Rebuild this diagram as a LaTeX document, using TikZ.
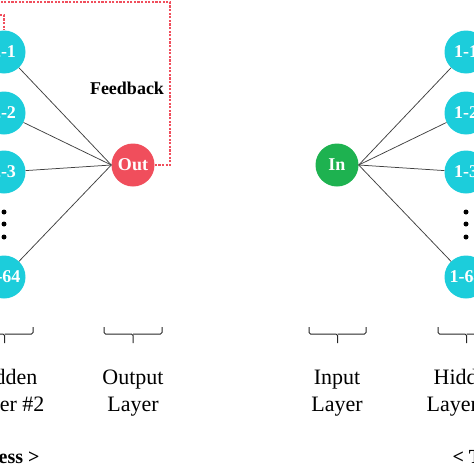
\documentclass[tikz,border=0pt]{standalone}
\usepackage{fontspec}
\setmainfont{Liberation Serif}
\definecolor{hidcyan}{RGB}{28,205,219}
\definecolor{outred}{RGB}{240,78,92}
\definecolor{ingreen}{RGB}{30,178,80}
\tikzset{
  neuron/.style={circle, minimum size=43pt, inner sep=0pt, text=white,
    font=\fontsize{18}{18}\selectfont\bfseries},
  link/.style={draw=black!75, line width=0.75pt},
  feedline/.style={draw=outred, line width=1.1pt, dash pattern=on 2.2pt off 1.4pt},
  layerbrace/.style={draw=black!85, line width=1pt, rounded corners=1.5pt},
  layername/.style={align=center, font=\fontsize{22}{27}\selectfont},
}
\newcommand{\layerbrace}[2]{%
  \draw[layerbrace] (#1,327) -- (#1,334) -- ({(#1+#2)/2},334) -- ({(#1+#2)/2},343);
  \draw[layerbrace] ({(#1+#2)/2},334) -- (#2,334) -- (#2,327);
}
\begin{document}
\begin{tikzpicture}[x=1pt, y=-1pt]
    \useasboundingbox (0,0) rectangle (474,474);
    \clip (0,0) rectangle (474,474);

    % Hidden layer #2 and output
    \node[neuron, fill=hidcyan] (h21) at (4,52) {2-1};
    \node[neuron, fill=hidcyan] (h22) at (4,113) {2-2};
    \node[neuron, fill=hidcyan] (h23) at (4,172) {2-3};
    \node[neuron, fill=hidcyan] (h264) at (4,277) {2-64};
    \node[neuron, fill=outred] (out) at (133,165) {Out};
    \fill (4,212) circle (2.5pt);
    \fill (4,224) circle (2.5pt);
    \fill (4,237) circle (2.5pt);
    \draw[link] (h21) -- (out.west);
    \draw[link] (h22) -- (out.west);
    \draw[link] (h23) -- (out.west);
    \draw[link] (h264) -- (out.west);

    % Feedback loop
    \coordinate (F1) at (170,165);
    \coordinate (F2) at (170,2);
    \coordinate (F3) at (-10,2);
    \coordinate (F4) at (-10,15);
    \coordinate (F5) at (4,15);
    \draw[feedline] (out.east) -- (F1) -- (F2) -- (F3) -- (F4) -- (F5) -- (h21.north);
    \node[font=\fontsize{18}{18}\selectfont\bfseries] (fb) at (127,88) {Feedback};

    % Input and hidden layer #1
    \node[neuron, fill=ingreen] (in) at (337,165) {In};
    \node[neuron, fill=hidcyan] (h11) at (466,52) {1-1};
    \node[neuron, fill=hidcyan] (h12) at (466,113) {1-2};
    \node[neuron, fill=hidcyan] (h13) at (466,172) {1-3};
    \node[neuron, fill=hidcyan] (h164) at (466,277) {1-64};
    \fill (466,212) circle (2.5pt);
    \fill (466,224) circle (2.5pt);
    \fill (466,237) circle (2.5pt);
    \draw[link] (in.east) -- (h11);
    \draw[link] (in.east) -- (h12);
    \draw[link] (in.east) -- (h13);
    \draw[link] (in.east) -- (h164);

    % Braces
    \layerbrace{-24}{33}
    \layerbrace{104}{162}
    \layerbrace{309}{366}
    \layerbrace{438}{495}

    % Labels
    \node[layername] (lh2) at (5,393) {Hidden\\Layer \#2};
    \node[layername] (lout) at (133,393) {Output\\Layer};
    \node[layername] (lin) at (337,393) {Input\\Layer};
    \node[layername] (lh1) at (466,393) {Hidden\\Layer \#1};
    \node[anchor=east, font=\fontsize{20}{20}\selectfont\bfseries] (train) at (43,459) {< Training Process >};
    \node[anchor=west, font=\fontsize{20}{20}\selectfont\bfseries] (test) at (449,459) {< Testing Process >};
\end{tikzpicture}
\end{document}
